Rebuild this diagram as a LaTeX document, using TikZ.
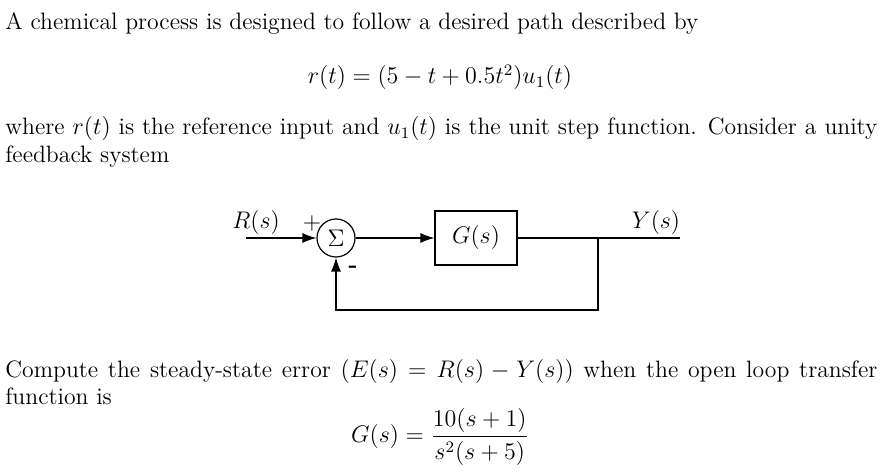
\documentclass[tikz,border=0pt]{standalone}
\usetikzlibrary{arrows.meta}
\begin{document}
\begin{tikzpicture}[x=0.5pt,y=-0.5pt,
  txt/.style={anchor=base west,inner sep=0pt,font=\fontsize{11.85}{14}\selectfont},
  blk/.style={draw,line width=0.6pt,minimum width=41pt,minimum height=27pt,font=\fontsize{11.85}{14}\selectfont},
  sumc/.style={draw,circle,line width=0.6pt,minimum size=19pt,inner sep=0pt},
  lbl/.style={inner sep=0pt,font=\fontsize{11.85}{14}\selectfont},
  arr/.style={-{Latex[length=7pt,width=5pt]},line width=0.6pt},
  ln/.style={line width=0.6pt}]
\useasboundingbox (0,0) rectangle (889,475);
\node[txt] (l1) at (5,30) {A chemical process is designed to follow a desired path described by};
\node[txt,anchor=base] (eq) at (440,84) {$r(t)=(5-t+0.5t^2)u_1(t)$};
\node[txt] (l2) at (5,135) {\makebox[436pt][s]{where $r(t)$ is the reference input and $u_1(t)$ is the unit step function. Consider a unity}};
\node[txt] (l3) at (5,163) {feedback system};
% diagram
\node[sumc] (s) at (336,238) {\fontsize{12}{13}\selectfont$\Sigma$};
\node[blk] (g) at (476,238) {$G(s)$};
\coordinate (in) at (246,238);
\coordinate (out) at (680,238);
\coordinate (br) at (598,238);
\coordinate (bd) at (598,310);
\coordinate (bl) at (336,310);
\draw[arr] (in) -- (s);
\draw[arr] (s) -- (g);
\draw[ln] (g) -- (out);
\draw[arr] (br) -- (bd) -- (bl) -- (s);
\node[lbl] (r) at (256,223) {$R(s)$};
\node[lbl] (y) at (656,223) {$Y(s)$};
\node[lbl] (p) at (312,224) {$+$};
\node[lbl] (m) at (353,269) {\textbf{-}};
\node[txt] (l4) at (5,378) {\makebox[436pt][s]{Compute the steady-state error $(E(s)=R(s)-Y(s))$ when the open loop transfer}};
\node[txt] (l5) at (5,405) {function is};
\node[txt,anchor=center] (geq) at (440,437) {$\displaystyle G(s)=\frac{10(s+1)}{s^2(s+5)}$};
\end{tikzpicture}
\end{document}
